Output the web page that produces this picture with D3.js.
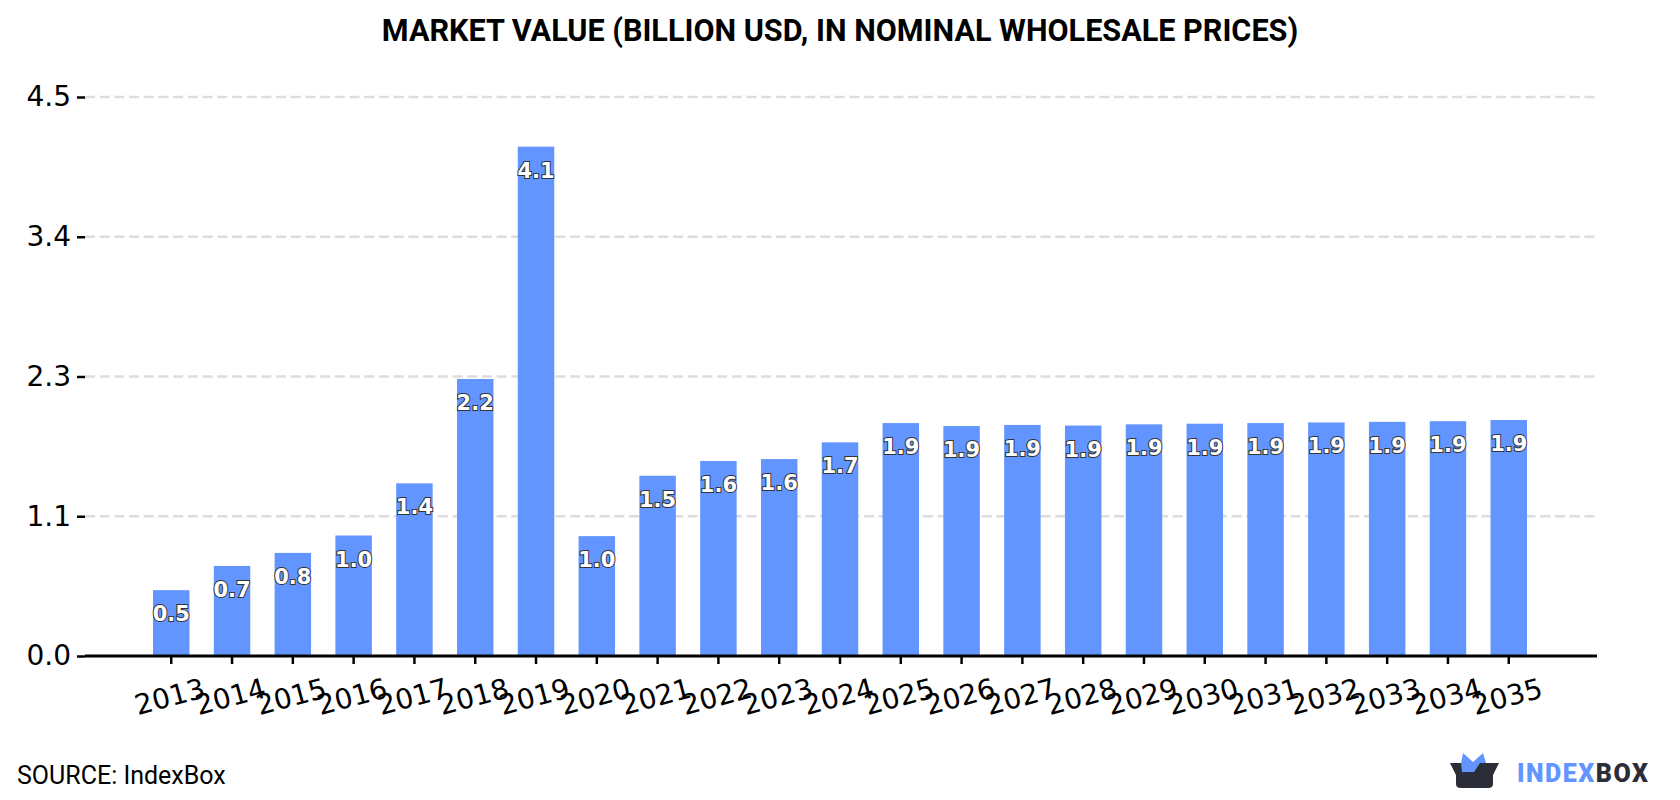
<!DOCTYPE html>
<html>
<head>
<meta charset="utf-8">
<script src="https://cdn.jsdelivr.net/npm/d3@7"></script>
<style>
html,body{margin:0;padding:0;background:#fff;}
svg{display:block;}
</style>
</head>
<body>
<svg id="chart" width="1680" height="800"></svg>
<script>
const years = ["2013","2014","2015","2016","2017","2018","2019","2020","2021","2022","2023","2024","2025","2026","2027","2028","2029","2030","2031","2032","2033","2034","2035"];
const marketValue = [0.53,0.725,0.83,0.97,1.39,2.23,4.1,0.965,1.451,1.57,1.585,1.72,1.875,1.851,1.86,1.855,1.865,1.87,1.875,1.88,1.885,1.89,1.9];
const tickValues = [0,1.125,2.25,3.375,4.5];
const tickLabels = ["0.0","1.1","2.3","3.4","4.5"];
const titleText = "MARKET VALUE (BILLION USD, IN NOMINAL WHOLESALE PRICES)";
const sourceText = "SOURCE: IndexBox";

const svg = d3.select("#chart");
const x = d3.scaleBand().domain(years).range([153,1527]).paddingInner(0.4).paddingOuter(0);
const y = d3.scaleLinear().domain([0,4.5]).range([656,97]);

svg.append("text").attr("x",840).attr("y",41).attr("text-anchor","middle")
  .attr("font-family","Roboto").attr("font-weight",700).attr("font-size",30.6).text(titleText);

// Dashed horizontal grid
svg.append("g").selectAll("line").data(tickValues.slice(1)).join("line")
  .attr("x1",85).attr("x2",1597).attr("y1",d=>y(d)).attr("y2",d=>y(d))
  .attr("stroke","#dddddd").attr("stroke-width",2.5).attr("stroke-dasharray","10 4.7");

// Bars
svg.append("g").selectAll("rect").data(years).join("rect")
  .attr("x",d=>x(d)).attr("width",x.bandwidth())
  .attr("y",(d,i)=>y(marketValue[i])).attr("height",(d,i)=>y(0)-y(marketValue[i]))
  .attr("fill","#6295ff");

// Value axis
const yAxis = d3.axisLeft(y).tickValues(tickValues).tickFormat((d,i)=>tickLabels[i]).tickSize(8).tickPadding(6);
const gy = svg.append("g").attr("transform","translate(85,0)").call(yAxis);
gy.select(".domain").remove();
gy.selectAll("line").attr("stroke","#000").attr("stroke-width",2.5);
gy.selectAll("text").attr("font-family","DejaVu Sans").attr("font-size",28).attr("fill","#000");

// Year axis with slanted labels
const xAxis = d3.axisBottom(x).tickSize(8).tickSizeOuter(0);
const gx = svg.append("g").attr("transform","translate(0,656)").call(xAxis);
gx.select(".domain").attr("stroke","#000").attr("stroke-width",3).attr("d","M85,0H1597");
gx.selectAll("line").attr("stroke","#000").attr("stroke-width",2.5);
gx.selectAll("text").attr("font-family","DejaVu Sans").attr("font-size",28).attr("fill","#000")
  .attr("text-anchor","middle").attr("dy",0).attr("y",0)
  .attr("transform","translate(1,50) rotate(-15)");

// Outlined value labels inside each bar
svg.append("g").selectAll("text").data(years).join("text")
  .attr("x",d=>x(d)+x.bandwidth()/2)
  .attr("y",(d,i)=>y(marketValue[i])+31)
  .attr("text-anchor","middle")
  .attr("font-family","DejaVu Sans").attr("font-weight",700).attr("font-size",21)
  .attr("fill","#fff").attr("stroke","#333").attr("stroke-width",2).attr("paint-order","stroke")
  .text((d,i)=>d3.format(".1f")(marketValue[i]));

svg.append("text").attr("x",17).attr("y",784).attr("font-family","Roboto").attr("font-size",25).attr("fill","#000").text(sourceText);

// Brand mark: dark box with a blue crown rising out of it
const logo = svg.append("g");
logo.append("path").attr("fill","#2b2d38").attr("d","M1450,763H1499L1493,775V784Q1493,788 1488,788H1461Q1456,788 1456,784V775Z");
logo.append("path").attr("fill","#6295ff").attr("d","M1461,763L1463,753L1473,762L1483,753L1486,763H1480L1474,772H1462Z");
svg.append("text").attr("x",1517).attr("y",782).attr("font-family","Roboto").attr("font-weight",900).attr("font-size",25).attr("letter-spacing",1.5).attr("fill","#6295ff").text("INDEX")
  .append("tspan").attr("fill","#2b2d38").text("BOX");
</script>
</body>
</html>
